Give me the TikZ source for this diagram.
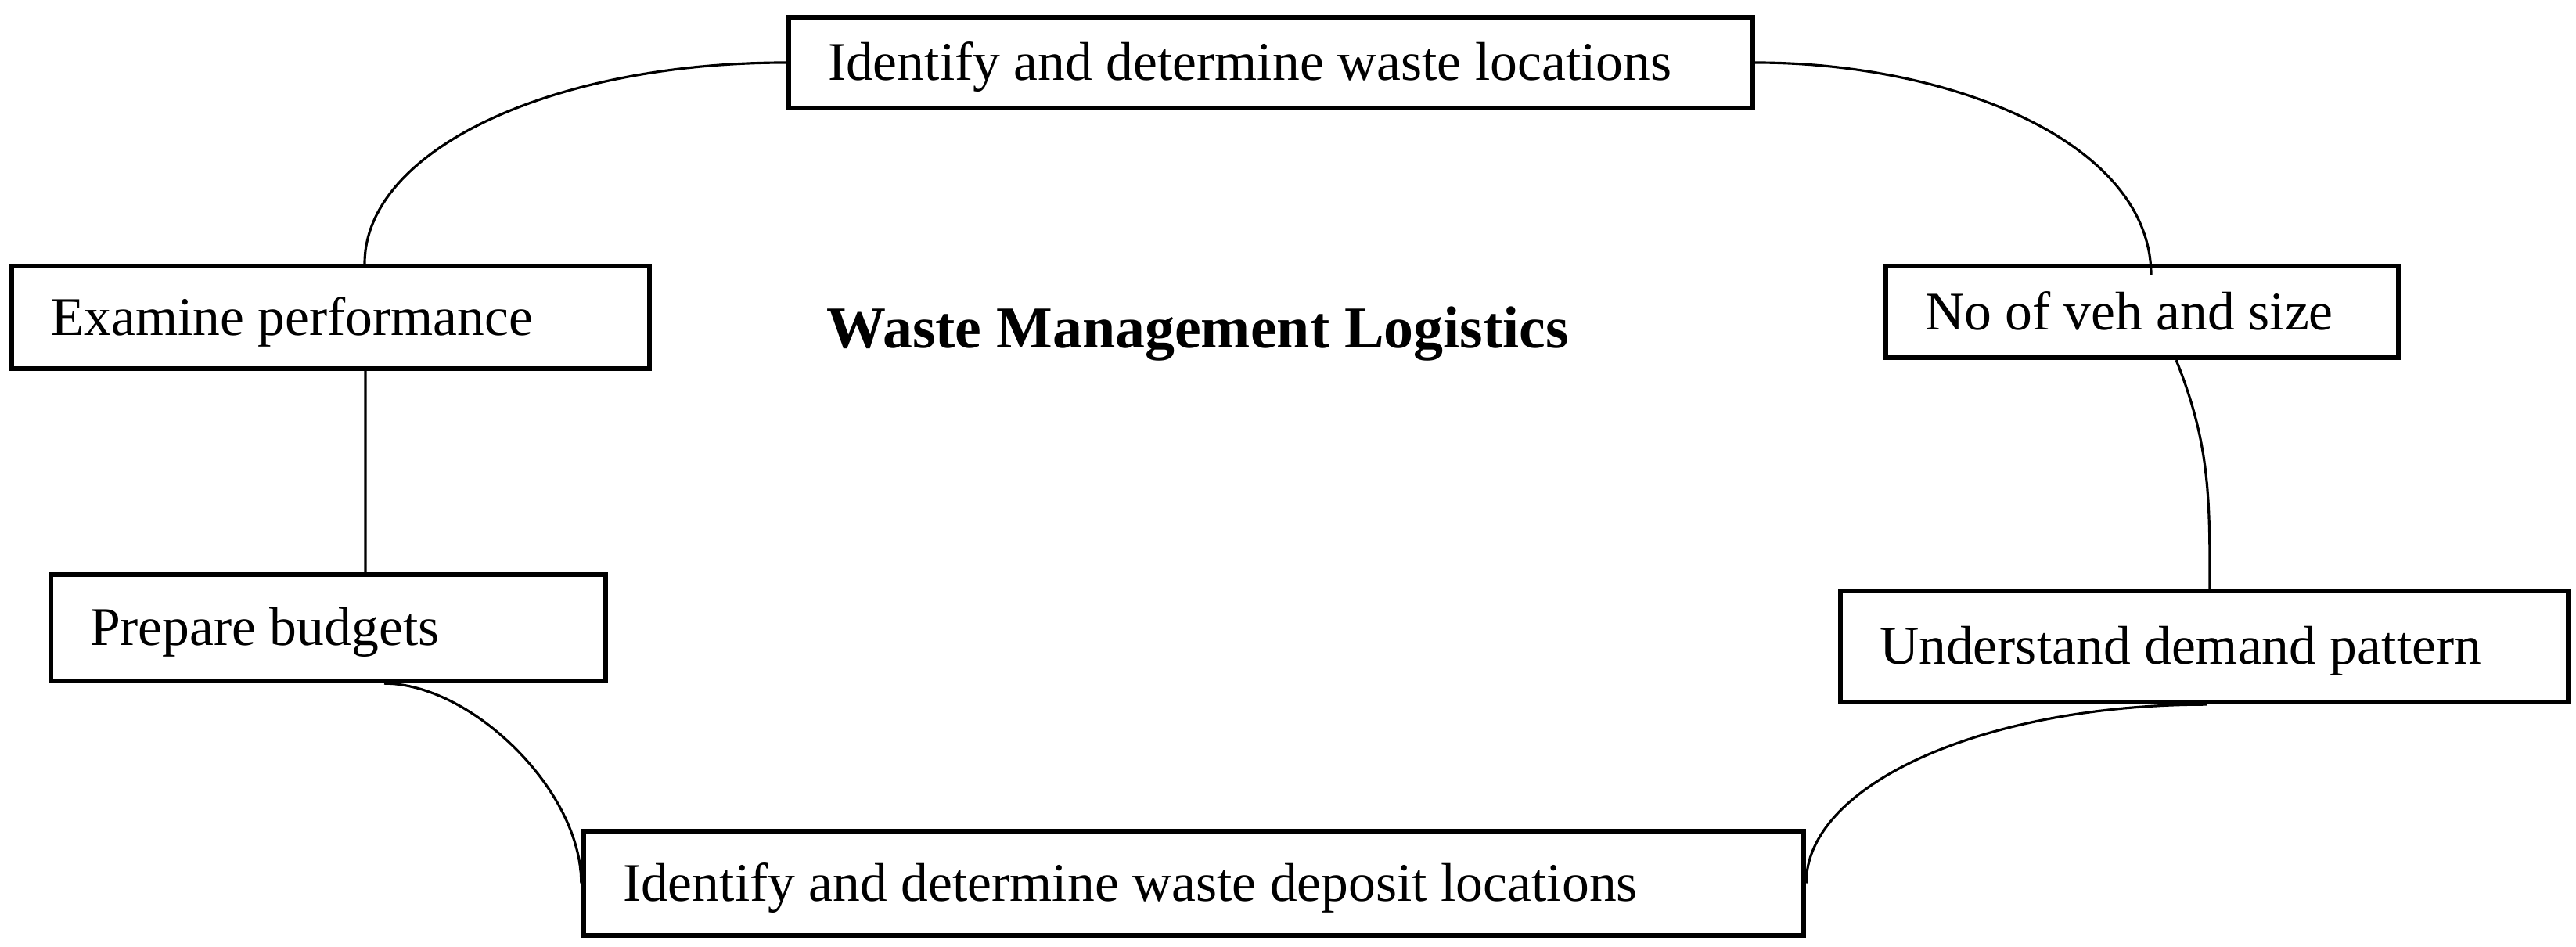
\documentclass[tikz,border=0pt]{standalone}
\usepackage{fontspec}
\setmainfont{Liberation Serif}
\begin{document}
\begin{tikzpicture}[line width=0.9pt, main/.style = {draw, line width=1.8pt, inner xsep=0.5cm, inner ysep=0pt, text height=0.46cm, text depth=0pt, font=\fontsize{19.8}{24}\selectfont, execute at begin node={\spaceskip=0pt\xspaceskip=0pt\relax}}]
            \useasboundingbox (0,0) rectangle (32.92,12.10);
            \node[main, minimum width=12.32cm, minimum height=1.16cm, text width=11.32cm] (1) at (16.24,11.30) {Identify and determine waste locations};
            \node[main, minimum width=6.55cm, minimum height=1.17cm, text width=5.55cm] (2) at (27.375,8.115) {No of veh and size};
            \node[main, minimum width=9.30cm, minimum height=1.42cm, text width=8.30cm] (3) at (28.17,3.84) {Understand demand pattern};
            \node[main, minimum width=15.59cm, minimum height=1.33cm, text width=14.59cm] (4) at (15.255,0.815) {Identify and determine waste deposit locations};
            \node[main, minimum width=7.09cm, minimum height=1.36cm, text width=6.09cm] (5) at (4.195,4.08) {Prepare budgets};
            \node[main, minimum width=8.15cm, minimum height=1.31cm, text width=7.15cm] (6) at (4.225,8.045) {Examine performance};
            \node[anchor=base west, font=\bfseries\fontsize{21.6}{26}\selectfont] (title) at (10.43,7.65) {Waste Management Logistics};
            \draw (1.west) to [out=180,in=90,out distance=3cm,in distance=1.45cm] ([xshift=4.35mm]6.north);
            \draw (1.east) to [out=0,in=90,out distance=2.5cm,in distance=1.7cm] ([xshift=1.15mm,yshift=-1.5mm]2.north);
            \draw ([xshift=4.35mm]2.south) to [out=-68,in=90] ([xshift=0.7mm]3.north);
            \draw ([xshift=0.3mm]3.south) to [out=180,in=90,out distance=2.85cm,in distance=1.26cm] (4.east);
            \draw ([xshift=7.15mm]5.south) to [out=0,in=90,out distance=1.1cm,in distance=1.2cm] (4.west);
            \draw ([xshift=4.45mm]6.south) -- ([xshift=4.75mm]5.north);
        \end{tikzpicture}
\end{document}
